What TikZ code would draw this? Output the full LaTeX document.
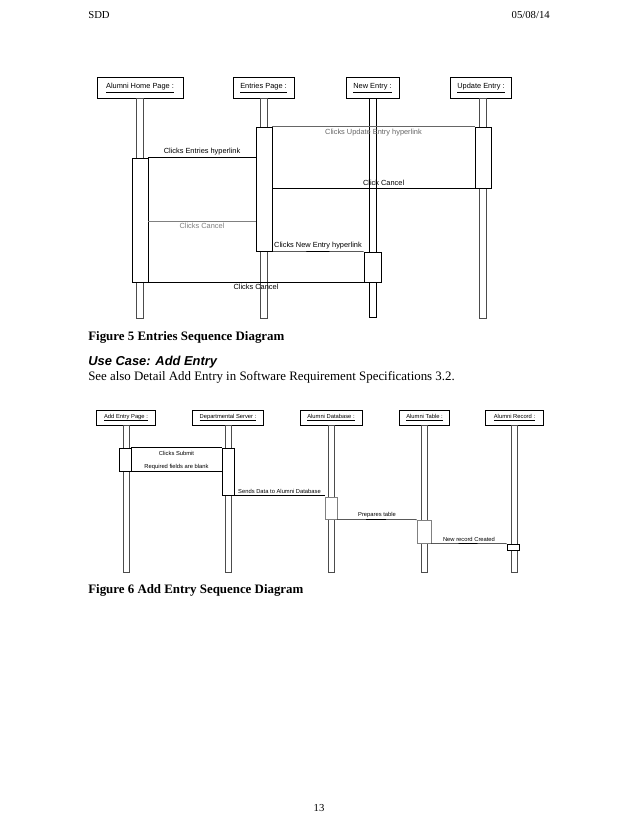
\documentclass[tikz,border=0pt]{standalone}
\usepackage{fontspec}
\setmainfont{Liberation Serif}
\setsansfont{Liberation Sans}
\newcommand{\umlA}{\sffamily\fontsize{7.4}{8.5}\selectfont}
\newcommand{\umlB}{\sffamily\fontsize{5.8}{7}\selectfont}
\newcommand{\bodyfont}{\fontsize{12.9}{15}\selectfont}
\begin{document}
\begin{tikzpicture}[x=1pt, y=-1pt, line width=0.6pt,
  head/.style={draw, fill=white, inner sep=0pt, minimum height=21pt, font=\umlA},
  headb/.style={draw, fill=white, inner sep=0pt, minimum height=15pt, font=\umlB},
  act/.style={draw, fill=white, inner sep=0pt, minimum width=16pt},
  actb/.style={draw, fill=white, inner sep=0pt, minimum width=12pt},
  msg/.style={font=\umlA, inner sep=2pt},
  msgb/.style={font=\umlB, inner sep=1.5pt},
  life/.style={draw=black!70, fill=white},
  txt/.style={inner sep=0pt, font=\bodyfont}]
  \useasboundingbox[fill=white] (0,0) rectangle (638,826);

  % page header
  \node[txt, anchor=west, font=\fontsize{10.7}{12}\selectfont] (hdrl) at (88,15) {SDD};
  \node[txt, anchor=east, font=\fontsize{10.7}{12}\selectfont] (hdrr) at (550,15) {05/08/14};

  % Figure 5: entries
  \node[head, minimum width=86pt] (home) at (140,88) {\underline{Alumni Home Page :}};
  \node[head, minimum width=61pt] (entr) at (263.5,88) {\underline{Entries Page :}};
  \node[head, minimum width=53pt] (newe) at (372.5,88) {\underline{New Entry :}};
  \node[head, minimum width=61pt] (upde) at (481,88) {\underline{Update Entry :}};

  \draw[life] ([xshift=-3.5pt]home.south) rectangle ++(7,219);
  \draw[life] ([xshift=-3.5pt]entr.south) rectangle ++(7,219);
  \draw[line width=1pt, fill=white] ([xshift=-3.5pt]newe.south) rectangle ++(7,219);
  \draw[life] ([xshift=-2pt]upde.south) rectangle ++(7,219);

  \node[act, minimum height=124pt] (eAct) at (264,189) {};
  \node[act, minimum height=61pt] (uAct) at (483,157.5) {};
  \node[act, minimum height=124pt] (hAct) at (140,220) {};
  \node[act, minimum width=17pt, minimum height=30pt] (nAct) at (372.5,267) {};
  \coordinate (back1) at (0,221);

  \draw[black!60] (eAct.north east) -- (uAct.north west)
    node[msg, midway, below] {Clicks Update Entry hyperlink};
  \draw (hAct.north east) -- (hAct.north east -| eAct.west)
    node[msg, midway, above] {Clicks Entries hyperlink};
  \draw (uAct.south west) -- (uAct.south west -| eAct.east)
    node[msg, pos=0.45, above] {Click Cancel};
  \draw[black!50] (eAct.west |- back1) -- (hAct.east |- back1)
    node[msg, midway, below] {Clicks Cancel};
  \draw (eAct.south east) -- (nAct.north west)
    node[msg, midway, above] {Clicks New Entry hyperlink};
  \draw (nAct.south west) -- (hAct.south east)
    node[msg, midway, below] {Clicks Cancel};

  \node[txt, anchor=west, font=\bodyfont\bfseries] (cap5) at (88,337) {Figure 5 Entries Sequence Diagram};
  \node[txt, anchor=west, font=\bodyfont\sffamily\bfseries\itshape] (ucase) at (88,362) {Use Case: Add Entry};
  \node[txt, anchor=west] (seeal) at (88,377) {See also Detail Add Entry in Software Requirement Specifications 3.2.};

  % Figure 6: add entry
  \node[headb, minimum width=59pt] (addp) at (126,417.5) {\underline{Add Entry Page :}};
  \node[headb, minimum width=71pt] (dept) at (228,417.5) {\underline{Departmental Server :}};
  \node[headb, minimum width=62pt] (adb) at (331,417.5) {\underline{Alumni Database :}};
  \node[headb, minimum width=50pt] (atab) at (424.5,417.5) {\underline{Alumni Table :}};
  \node[headb, minimum width=58pt] (arec) at (514.5,417.5) {\underline{Alumni Record :}};

  \draw[life] ([xshift=-3pt]addp.south) rectangle ++(6,147);
  \draw[life] ([xshift=-3pt]dept.south) rectangle ++(6,147);
  \draw[life] ([xshift=-3pt]adb.south) rectangle ++(6,147);
  \draw[life] ([xshift=-3pt]atab.south) rectangle ++(6,147);
  \draw[life] ([xshift=-3pt]arec.south) rectangle ++(6,147);

  \node[actb, minimum height=23pt] (aAct) at (125,459.5) {};
  \node[actb, minimum height=47pt] (dAct) at (228,471.5) {};
  \node[actb, minimum height=22pt, draw=black!50] (bAct) at (331,508) {};
  \node[actb, minimum width=14pt, minimum height=23pt, draw=black!50] (tAct) at (424,531.5) {};
  \node[actb, minimum height=6pt] (rAct) at (513,547) {};

  \draw (aAct.north east) -- (dAct.north west)
    node[msgb, midway, below=2pt] {Clicks Submit};
  \draw (aAct.south east -| dAct.west) -- (aAct.south east)
    node[msgb, midway, above] {Required fields are blank};
  \draw (dAct.south east) -- (dAct.south east -| bAct.west)
    node[msgb, midway, above] {Sends Data to Alumni Database};
  \draw (bAct.south east) -- (tAct.north west)
    node[msgb, midway, above] {Prepares table};
  \draw (tAct.south east) -- (rAct.north west)
    node[msgb, midway, above] {New record Created};

  \node[txt, anchor=west, font=\bodyfont\bfseries] (cap6) at (88,590) {Figure 6 Add Entry Sequence Diagram};
  \node[txt, font=\fontsize{10.7}{12}\selectfont] (pgno) at (319,808) {13};
\end{tikzpicture}
\end{document}
